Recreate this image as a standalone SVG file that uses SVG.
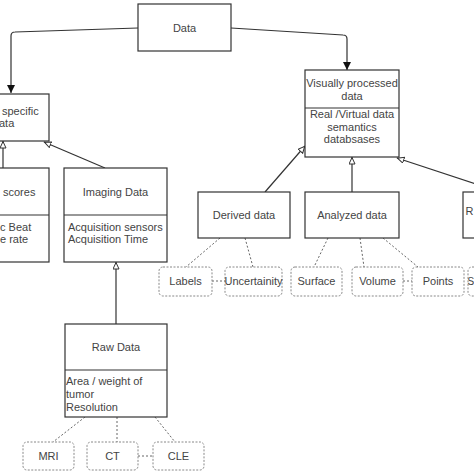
<svg xmlns="http://www.w3.org/2000/svg" width="474" height="474" viewBox="0 0 474 474">
<defs>
<marker id="filled" markerUnits="userSpaceOnUse" markerWidth="9" markerHeight="9" refX="8" refY="4" orient="auto">
<path d="M0,0 L8,4 L0,8 z" fill="#111"/>
</marker>
<marker id="open" markerUnits="userSpaceOnUse" markerWidth="9" markerHeight="9" refX="7.5" refY="3.5" orient="auto">
<path d="M0.5,0.5 L7,3.5 L0.5,6.5 z" fill="#fff" stroke="#333" stroke-width="1"/>
</marker>
</defs>
<style>
.box{fill:#fff;stroke:#333;stroke-width:1.2}
.div{stroke:#333;stroke-width:1.2}
.leaf{fill:#fff;stroke:#888;stroke-width:1;stroke-dasharray:2 1.5}
.t{font-family:"Liberation Sans",Arial,sans-serif;font-size:11px;fill:#444}
.c{text-anchor:middle}
.solid{fill:none;stroke:#333;stroke-width:1.2}
.dot{fill:none;stroke:#666;stroke-width:1;stroke-dasharray:2 2}
</style>
<rect width="474" height="474" fill="#fff"/>
<g id="connectors">
<path class="solid" d="M138,28 L15,32 Q11,32 11,36 L11,93" marker-end="url(#filled)"/>
<path class="solid" d="M231,28 L343,35 Q347,35 347,39 L347,70" marker-end="url(#filled)"/>
<line class="solid" x1="3" y1="168" x2="3" y2="141" marker-end="url(#open)"/>
<line class="solid" x1="105" y1="168" x2="44" y2="142" marker-end="url(#open)"/>
<line class="solid" x1="116" y1="324" x2="116" y2="262" marker-end="url(#open)"/>
<line class="solid" x1="265" y1="192" x2="305" y2="146" marker-end="url(#open)"/>
<line class="solid" x1="352" y1="192" x2="352" y2="157" marker-end="url(#open)"/>
<line class="solid" x1="476" y1="184" x2="397" y2="158" marker-end="url(#open)"/>
<line class="dot" x1="85" y1="417" x2="53" y2="442"/>
<line class="dot" x1="117" y1="417" x2="117" y2="442"/>
<line class="dot" x1="155" y1="417" x2="175" y2="442"/>
<line class="dot" x1="138" y1="456" x2="153" y2="456"/>
<line class="dot" x1="220" y1="238" x2="186" y2="267"/>
<line class="dot" x1="245" y1="238" x2="253" y2="267"/>
<line class="dot" x1="212" y1="281" x2="225" y2="281"/>
<line class="dot" x1="328" y1="238" x2="314" y2="267"/>
<line class="dot" x1="360" y1="238" x2="364" y2="267"/>
<line class="dot" x1="383" y1="238" x2="418" y2="267"/>
<line class="dot" x1="403" y1="281" x2="412" y2="281"/>
</g>
<g id="data">
<rect class="box" x="138" y="4" width="93" height="47"/>
<text class="t c" x="184.5" y="32">Data</text>
</g>
<g id="specific">
<rect class="box" x="-44" y="94" width="93" height="47"/>
<text class="t" x="2" y="115">specific</text>
<text class="t" x="-1" y="127">ata</text>
</g>
<g id="scores">
<rect class="box" x="-55" y="168" width="104" height="94"/>
<line class="div" x1="-55" y1="215" x2="49" y2="215"/>
<text class="t" x="3" y="196">scores</text>
<text class="t" x="0" y="231">c Beat</text>
<text class="t" x="0" y="243">e rate</text>
</g>
<g id="imaging">
<rect class="box" x="64" y="168" width="103" height="94"/>
<line class="div" x1="64" y1="215" x2="167" y2="215"/>
<text class="t c" x="115.5" y="196">Imaging Data</text>
<text class="t" x="68" y="231">Acquisition sensors</text>
<text class="t" x="68" y="243">Acquisition Time</text>
</g>
<g id="raw">
<rect class="box" x="65" y="324" width="102" height="93"/>
<line class="div" x1="65" y1="370" x2="167" y2="370"/>
<text class="t c" x="116" y="351">Raw Data</text>
<text class="t" x="66" y="385">Area / weight of</text>
<text class="t" x="66" y="398">tumor</text>
<text class="t" x="66" y="411">Resolution</text>
</g>
<g id="mri"><rect class="leaf" x="23" y="442" width="51" height="28" rx="4"/><text class="t c" x="48.5" y="460">MRI</text></g>
<g id="ct"><rect class="leaf" x="87" y="442" width="51" height="28" rx="4"/><text class="t c" x="112.5" y="460">CT</text></g>
<g id="cle"><rect class="leaf" x="153" y="442" width="51" height="28" rx="4"/><text class="t c" x="178.5" y="460">CLE</text></g>
<g id="visual">
<rect class="box" x="305" y="70" width="94" height="87"/>
<line class="div" x1="305" y1="108" x2="399" y2="108"/>
<text class="t c" x="352" y="87">Visually processed</text>
<text class="t c" x="352" y="100">data</text>
<text class="t c" x="352" y="118">Real /Virtual data</text>
<text class="t c" x="352" y="131">semantics</text>
<text class="t c" x="352" y="143">databsases</text>
</g>
<g id="derived">
<rect class="box" x="198" y="192" width="92" height="46"/>
<text class="t c" x="244" y="219">Derived data</text>
</g>
<g id="analyzed">
<rect class="box" x="305" y="192" width="94" height="46"/>
<text class="t c" x="352" y="219">Analyzed data</text>
</g>
<g id="rbox">
<rect class="box" x="463" y="192" width="60" height="46"/>
<text class="t" x="465.5" y="215">R</text>
</g>
<g id="labels"><rect class="leaf" x="159" y="267" width="53" height="29" rx="4"/><text class="t c" x="185.5" y="285">Labels</text></g>
<g id="uncertainty"><rect class="leaf" x="225" y="267" width="57" height="29" rx="4"/><text class="t c" x="253.5" y="285">Uncertainity</text></g>
<g id="surface"><rect class="leaf" x="291" y="267" width="51" height="29" rx="4"/><text class="t c" x="316.5" y="285">Surface</text></g>
<g id="volume"><rect class="leaf" x="352" y="267" width="51" height="29" rx="4"/><text class="t c" x="377.5" y="285">Volume</text></g>
<g id="points"><rect class="leaf" x="412" y="267" width="52" height="29" rx="4"/><text class="t c" x="438" y="285">Points</text></g>
<g id="sbox"><rect class="leaf" x="468" y="267" width="50" height="29" rx="4"/><text class="t" x="467.5" y="285" style="font-size:10px">S</text></g>
</svg>
